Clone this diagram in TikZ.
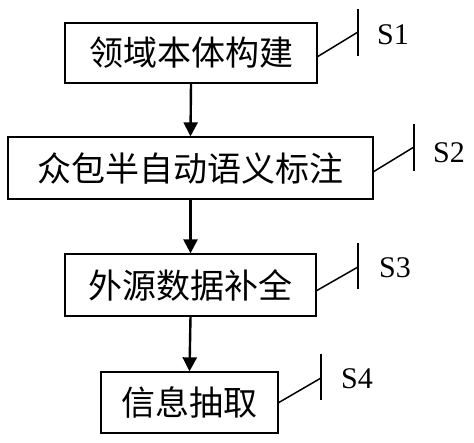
\documentclass[tikz,border=0pt]{standalone}
\usepackage{fontspec}
\setmainfont{Liberation Serif}
\newfontfamily\cjk{Noto Sans CJK SC}
\usetikzlibrary{arrows.meta}
\begin{document}
\begin{tikzpicture}[x=1pt,y=-1pt,
  stepbox/.style={draw,line width=1.3pt,rectangle,inner sep=0pt,font=\cjk\fontsize{34}{38}\selectfont},
  flow/.style={line width=2.4pt,-{Triangle[length=14pt,width=14pt]}},
  leader/.style={line width=1.5pt},
  slabel/.style={font=\fontsize{30}{32}\selectfont,inner sep=0pt}]
\useasboundingbox (0,0) rectangle (474,442);
\node[stepbox,minimum width=252pt,minimum height=60pt] (b1) at (191,53) {领域本体构建};
\node[stepbox,minimum width=365pt,minimum height=62pt] (b2) at (190.5,168) {众包半自动语义标注};
\node[stepbox,minimum width=251pt,minimum height=62pt] (b3) at (190.5,285) {外源数据补全};
\node[stepbox,minimum width=177pt,minimum height=61pt] (b4) at (189.5,402.5) {信息抽取};
\draw[flow] (b1.south) -- (b2.north);
\draw[flow] (b2.south) -- (b3.north);
\draw[flow] (b3.south) -- (b4.north);
% S1
\coordinate (l1) at (317,57);
\coordinate (t1) at (358,32);
\coordinate (t1a) at (358,9);
\coordinate (t1b) at (358,56);
\draw[leader] (l1) -- (t1);
\draw[leader] (t1a) -- (t1b);
\node[slabel] (s1) at (393,35) {S1};
% S2
\coordinate (l2) at (373,172);
\coordinate (t2) at (414,147);
\coordinate (t2a) at (414,124);
\coordinate (t2b) at (414,171);
\draw[leader] (l2) -- (t2);
\draw[leader] (t2a) -- (t2b);
\node[slabel] (s2) at (449,153) {S2};
% S3
\coordinate (l3) at (316,291);
\coordinate (t3) at (358,267);
\coordinate (t3a) at (358,243);
\coordinate (t3b) at (358,289);
\draw[leader] (l3) -- (t3);
\draw[leader] (t3a) -- (t3b);
\node[slabel] (s3) at (395,268) {S3};
% S4
\coordinate (l4) at (278,403);
\coordinate (t4) at (321,378);
\coordinate (t4a) at (321,354);
\coordinate (t4b) at (321,400);
\draw[leader] (l4) -- (t4);
\draw[leader] (t4a) -- (t4b);
\node[slabel] (s4) at (357,379) {S4};
\end{tikzpicture}
\end{document}
